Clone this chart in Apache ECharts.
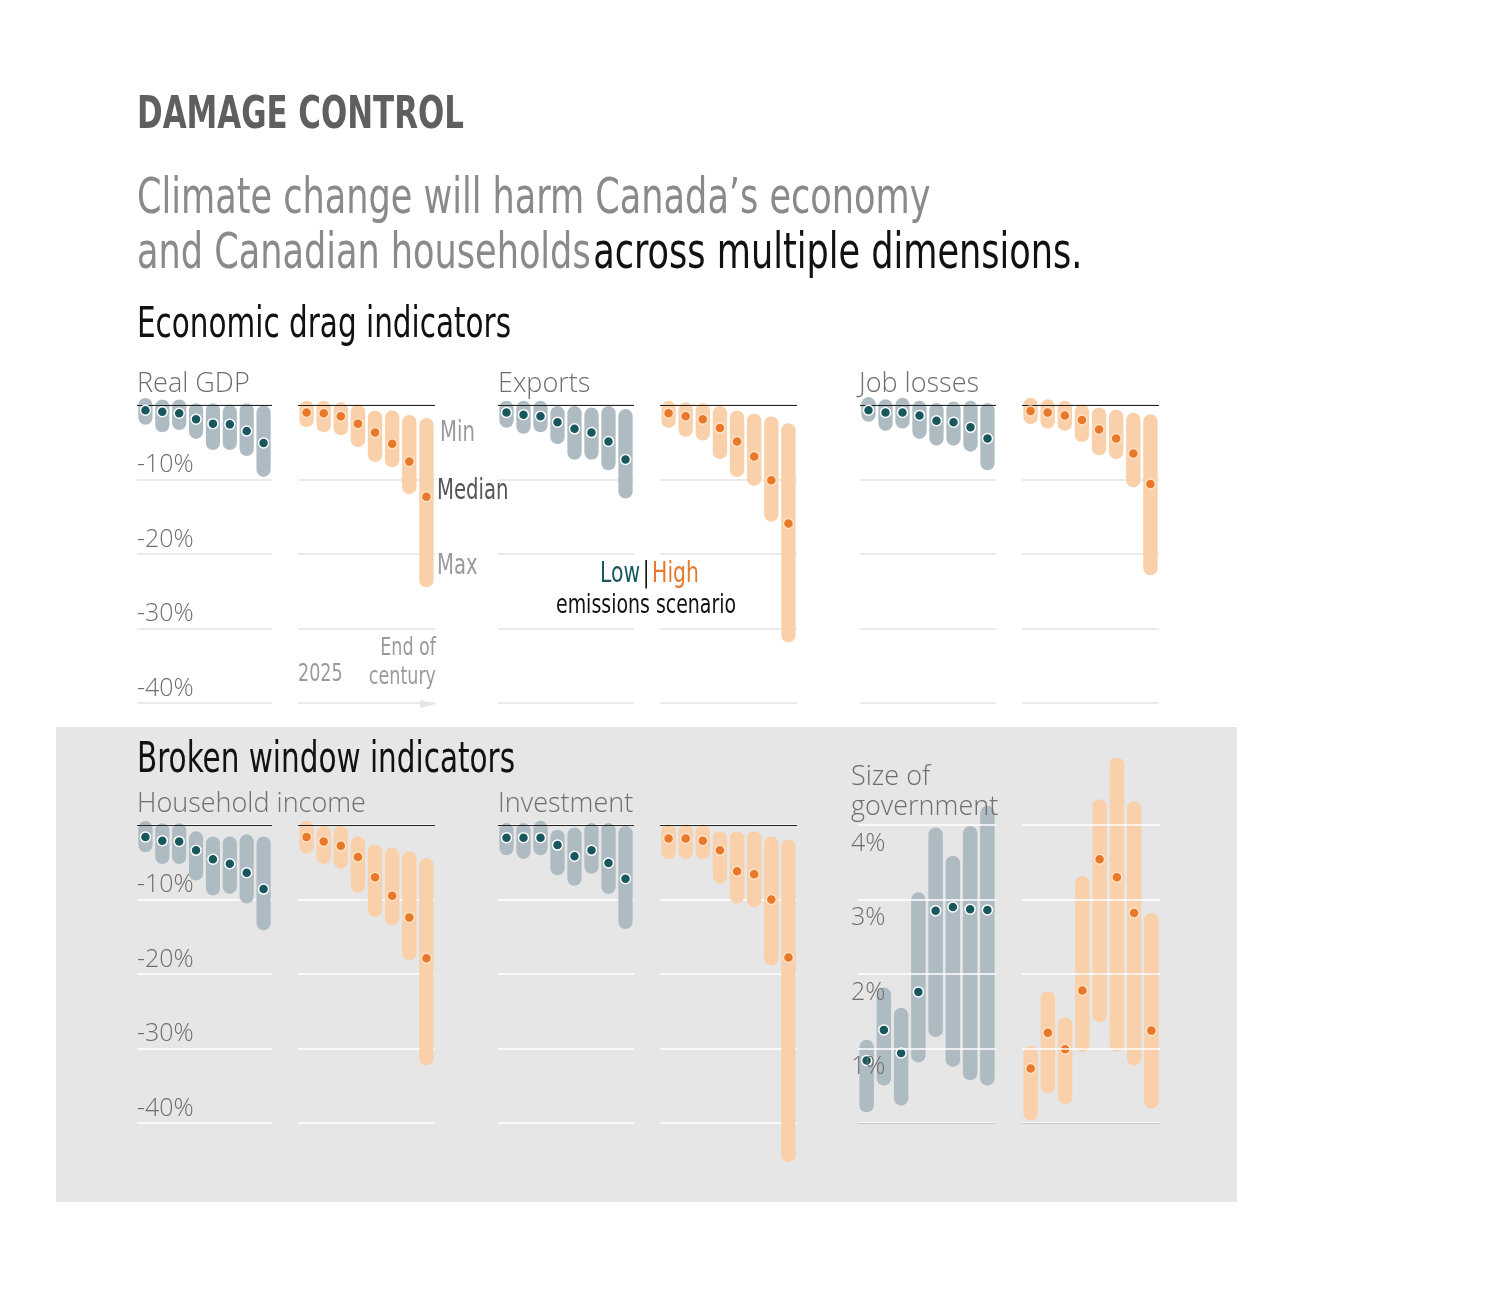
<!DOCTYPE html>
<html><head><meta charset="utf-8">
<script src="https://cdn.jsdelivr.net/npm/echarts@6/dist/echarts.min.js"></script>
<style>html,body{margin:0;padding:0;background:#fff}#c{width:1490px;height:1313px}</style>
</head><body><div id="c"></div>
<script>
const periods = ['P1','P2','P3','P4','P5','P6','P7','P8'];
const pctTicks = ['-10%','-20%','-30%','-40%'];
const govTicks = ['1%','2%','3%','4%'];
// top (least severe), median, bottom (most severe) — % change
const gdpLowTop = [0, -0.2, -0.2, -0.7, -0.7, -0.9, -0.7, -1.0];
const gdpLowMed = [-0.7, -0.9, -1.1, -1.9, -2.5, -2.6, -3.5, -5.1];
const gdpLowBot = [-1.7, -2.7, -2.4, -3.6, -5.1, -5.1, -5.9, -8.7];
const gdpHighTop = [-0.4, -0.4, -0.6, -0.9, -1.7, -1.7, -2.3, -2.7];
const gdpHighMed = [-1.0, -1.1, -1.5, -2.5, -3.7, -5.2, -7.6, -12.3];
const gdpHighBot = [-2.0, -2.7, -3.1, -4.7, -6.7, -7.4, -11.0, -23.5];
const expLowTop = [-0.4, -0.4, -0.4, -1.1, -1.1, -1.3, -1.1, -1.5];
const expLowMed = [-1.0, -1.3, -1.5, -2.3, -3.2, -3.7, -4.9, -7.3];
const expLowBot = [-2.1, -2.9, -2.7, -4.3, -6.4, -6.4, -7.8, -11.6];
const expHighTop = [-0.4, -0.6, -0.7, -1.1, -1.7, -2.1, -2.5, -3.4];
const expHighMed = [-1.1, -1.5, -1.9, -3.1, -4.9, -6.9, -10.1, -15.9];
const expHighBot = [-2.1, -3.3, -3.8, -6.3, -8.7, -9.9, -14.7, -30.9];
const jobLowTop = [0.1, -0.2, 0, -0.4, -0.7, -0.5, -0.4, -0.7];
const jobLowMed = [-0.7, -1.0, -1.0, -1.4, -2.1, -2.3, -3.0, -4.5];
const jobLowBot = [-1.3, -2.5, -2.2, -3.6, -4.5, -4.5, -5.3, -7.8];
const jobHighTop = [0, -0.2, -0.4, -0.9, -1.3, -1.6, -2.0, -2.2];
const jobHighMed = [-0.8, -1.0, -1.4, -2.0, -3.3, -4.5, -6.5, -10.6];
const jobHighBot = [-1.6, -2.2, -2.5, -4.0, -5.8, -6.3, -10.1, -21.9];
const hhLowTop = [-0.4, -0.7, -0.7, -1.8, -2.5, -2.5, -2.2, -2.5];
const hhLowMed = [-1.6, -2.1, -2.2, -3.4, -4.6, -5.2, -6.4, -8.6];
const hhLowBot = [-2.7, -4.3, -4.3, -6.5, -8.5, -8.3, -9.6, -13.2];
const hhHighTop = [-0.4, -1.1, -1.1, -2.5, -3.6, -4.0, -4.5, -5.4];
const hhHighMed = [-1.6, -2.2, -2.8, -4.3, -7.0, -9.5, -12.4, -17.9];
const hhHighBot = [-2.9, -4.3, -4.9, -8.1, -11.4, -12.5, -17.2, -31.3];
const invLowTop = [-0.7, -0.7, -0.4, -1.6, -1.3, -0.7, -0.7, -1.1];
const invLowMed = [-1.7, -1.7, -1.7, -2.7, -4.2, -3.4, -5.1, -7.2];
const invLowBot = [-3.1, -3.6, -3.1, -5.8, -7.2, -5.6, -8.3, -13.0];
const invHighTop = [-0.9, -0.9, -0.9, -1.8, -1.8, -1.8, -2.5, -2.9];
const invHighMed = [-1.8, -1.8, -2.1, -3.4, -6.2, -6.6, -10.0, -17.8];
const invHighBot = [-3.6, -3.6, -3.6, -6.9, -9.6, -10.1, -17.9, -44.3];
const govLowTop = [1.02, 1.72, 1.45, 3.0, 3.87, 3.49, 3.89, 4.16];
const govLowMed = [0.84, 1.25, 0.94, 1.76, 2.85, 2.90, 2.87, 2.86];
const govLowBot = [0.24, 0.60, 0.33, 0.91, 1.25, 0.85, 0.67, 0.60];
const govHighTop = [0.94, 1.67, 1.32, 3.22, 4.25, 4.81, 4.22, 2.72];
const govHighMed = [0.73, 1.21, 0.99, 1.78, 3.54, 3.30, 2.82, 1.24];
const govHighBot = [0.13, 0.49, 0.35, 1.05, 1.45, 1.05, 0.87, 0.29];

const LOWBAR='#aebbc3', LOWDOT='#17575d', HIGHBAR='#f9d0aa', HIGHDOT='#e8792a';
const COND = "'DejaVu Sans Condensed','Liberation Sans Narrow',sans-serif";
const SANS = "'Open Sans',sans-serif";
const panels = [
  {x:137,w:135,y:405,kind:'neg',bg:'white',top:gdpLowTop,med:gdpLowMed,bot:gdpLowBot,low:true,labels:true},
  {x:298,w:137,y:405,kind:'neg',bg:'white',top:gdpHighTop,med:gdpHighMed,bot:gdpHighBot,low:false},
  {x:498,w:136,y:405,kind:'neg',bg:'white',top:expLowTop,med:expLowMed,bot:expLowBot,low:true},
  {x:660,w:137,y:405,kind:'neg',bg:'white',top:expHighTop,med:expHighMed,bot:expHighBot,low:false},
  {x:860,w:136,y:405,kind:'neg',bg:'white',top:jobLowTop,med:jobLowMed,bot:jobLowBot,low:true},
  {x:1022,w:137,y:405,kind:'neg',bg:'white',top:jobHighTop,med:jobHighMed,bot:jobHighBot,low:false},
  {x:137,w:135,y:825,kind:'neg',bg:'gray',top:hhLowTop,med:hhLowMed,bot:hhLowBot,low:true,labels:true},
  {x:298,w:137,y:825,kind:'neg',bg:'gray',top:hhHighTop,med:hhHighMed,bot:hhHighBot,low:false},
  {x:498,w:136,y:825,kind:'neg',bg:'gray',top:invLowTop,med:invLowMed,bot:invLowBot,low:true},
  {x:660,w:137,y:825,kind:'neg',bg:'gray',top:invHighTop,med:invHighMed,bot:invHighBot,low:false},
  {x:858,w:138,y:825,kind:'pos',bg:'gray',top:govLowTop,med:govLowMed,bot:govLowBot,low:true,labels:true},
  {x:1022,w:138,y:825,kind:'pos',bg:'gray',top:govHighTop,med:govHighMed,bot:govHighBot,low:false}
];
const grid=[],xAxis=[],yAxis=[],series=[];
panels.forEach((p,i)=>{
  grid.push({left:p.x,top:p.y,width:p.w,height:298});
  xAxis.push({type:'category',gridIndex:i,data:periods,show:false,boundaryGap:true});
  const neg = p.kind==='neg';
  const split = p.bg==='white' ? '#e3e3e3' : '#ffffff';
  yAxis.push({type:'value',gridIndex:i,min:neg?-40:0,max:neg?0:4,interval:neg?10:1,z:neg?0:10,
    axisLine:{show:false},axisTick:{show:false},
    splitLine:{show:true,lineStyle:{color:split,width:1.5}},
    axisLabel:{show:!!p.labels,inside:true,margin:neg?0:-7,color:'#6e6e6e',fontSize:25,
      fontFamily:SANS,fontWeight:300,hideOverlap:false,
      verticalAlign:neg?'bottom':'top',padding:neg?[0,0,2,0]:[6,0,0,0],
      showMinLabel:neg,showMaxLabel:!neg,
      formatter:v=>{ if(neg){const k=Math.round(-v/10);return k>=1?pctTicks[k-1]:'';}
        const k=Math.round(v);return k>=1?govTicks[k-1]:'';}}
  });
  series.push({type:'line',xAxisIndex:i,yAxisIndex:i,data:[],silent:true,
    markLine:{symbol:'none',silent:true,label:{show:false},lineStyle:{color:'#222',width:1.2,type:'solid'},data:[{yAxis:0}]}});
  const barColor = p.low?LOWBAR:HIGHBAR;
  series.push({type:'custom',xAxisIndex:i,yAxisIndex:i,clip:false,z:3,
    data:periods.map((c,j)=>[j,p.top[j],p.bot[j]]),
    renderItem:(params,api)=>{
      const a=api.coord([api.value(0),api.value(1)]);
      const b=api.coord([api.value(0),api.value(2)]);
      const w=api.size([1,0])[0]*0.84;
      return {type:'rect',shape:{x:a[0]-w/2,y:a[1]-w/2,width:w,height:b[1]-a[1]+w,r:w/2},
        style:{fill:barColor}};
    }});
  series.push({type:'scatter',xAxisIndex:i,yAxisIndex:i,z:5,symbolSize:10,clip:false,
    data:periods.map((c,j)=>[j,p.med[j]]),
    itemStyle:{color:p.low?LOWDOT:HIGHDOT,borderColor:p.low?'#ffffff':'#fde3c8',borderWidth:1.5,opacity:1}});
});
const SX=0.78;
const t=(x,y,text,size,color,style)=>({type:'text',x:x,y:y,scaleX:SX,z:10,
  style:Object.assign({text,fontSize:size,fill:color,fontFamily:COND},style||{})});
const lab=(x,y,text)=>({type:'text',x:x,y:y,z:10,
  style:{text,fontSize:27,fill:'#6e6e6e',fontFamily:SANS,fontWeight:300,lineHeight:30}});
const graphic=[
  {type:'rect',left:56,top:727,z:-10,shape:{width:1181,height:475},style:{fill:'#e6e6e6'}},
  t(137,95,'DAMAGE CONTROL',44,'#5f5f5f',{fontWeight:'bold'}),
  t(137,175,'Climate change will harm Canada\u2019s economy',50,'#8a8a8a'),
  {type:'text',x:137,y:230,scaleX:SX,z:10,style:{text:'{g|and Canadian households} {b|across multiple dimensions.}',
    rich:{g:{fontSize:50,fill:'#8a8a8a',fontFamily:COND},b:{fontSize:50,fill:'#111',fontFamily:COND}}}},
  t(137,305,'Economic drag indicators',42,'#111'),
  t(137,740,'Broken window indicators',42,'#111'),
  lab(137,369,'Real GDP'),
  lab(498,369,'Exports'),
  lab(859,369,'Job losses'),
  lab(137,789,'Household income'),
  lab(498,789,'Investment'),
  lab(851,762,'Size of\ngovernment'),
  t(440,420,'Min',28,'#9a9a9a'),
  t(437,478,'Median',28,'#555'),
  t(437,553,'Max',28,'#9a9a9a'),
  {type:'text',x:600,y:560,scaleX:SX,z:10,style:{text:'{l|Low} {s||} {h|High}',
    rich:{l:{fontSize:29,fill:'#17575d',fontFamily:COND},s:{fontSize:29,fill:'#111',fontFamily:COND},h:{fontSize:29,fill:'#e8792a',fontFamily:COND}}}},
  t(556,592,'emissions scenario',27,'#111'),
  t(298,662,'2025',25,'#9a9a9a'),
  {type:'text',x:436,y:634,scaleX:SX,z:10,style:{text:'End of\ncentury',fontSize:25,lineHeight:29,fill:'#9a9a9a',fontFamily:COND,align:'right'}},
  {type:'polygon',z:10,shape:{points:[[420,700],[436,704],[420,708]]},style:{fill:'#e6e6e6'}}
];
const chart=echarts.init(document.getElementById('c'));
chart.setOption({animation:false,backgroundColor:'#fff',grid,xAxis,yAxis,series,graphic});
</script></body></html>
